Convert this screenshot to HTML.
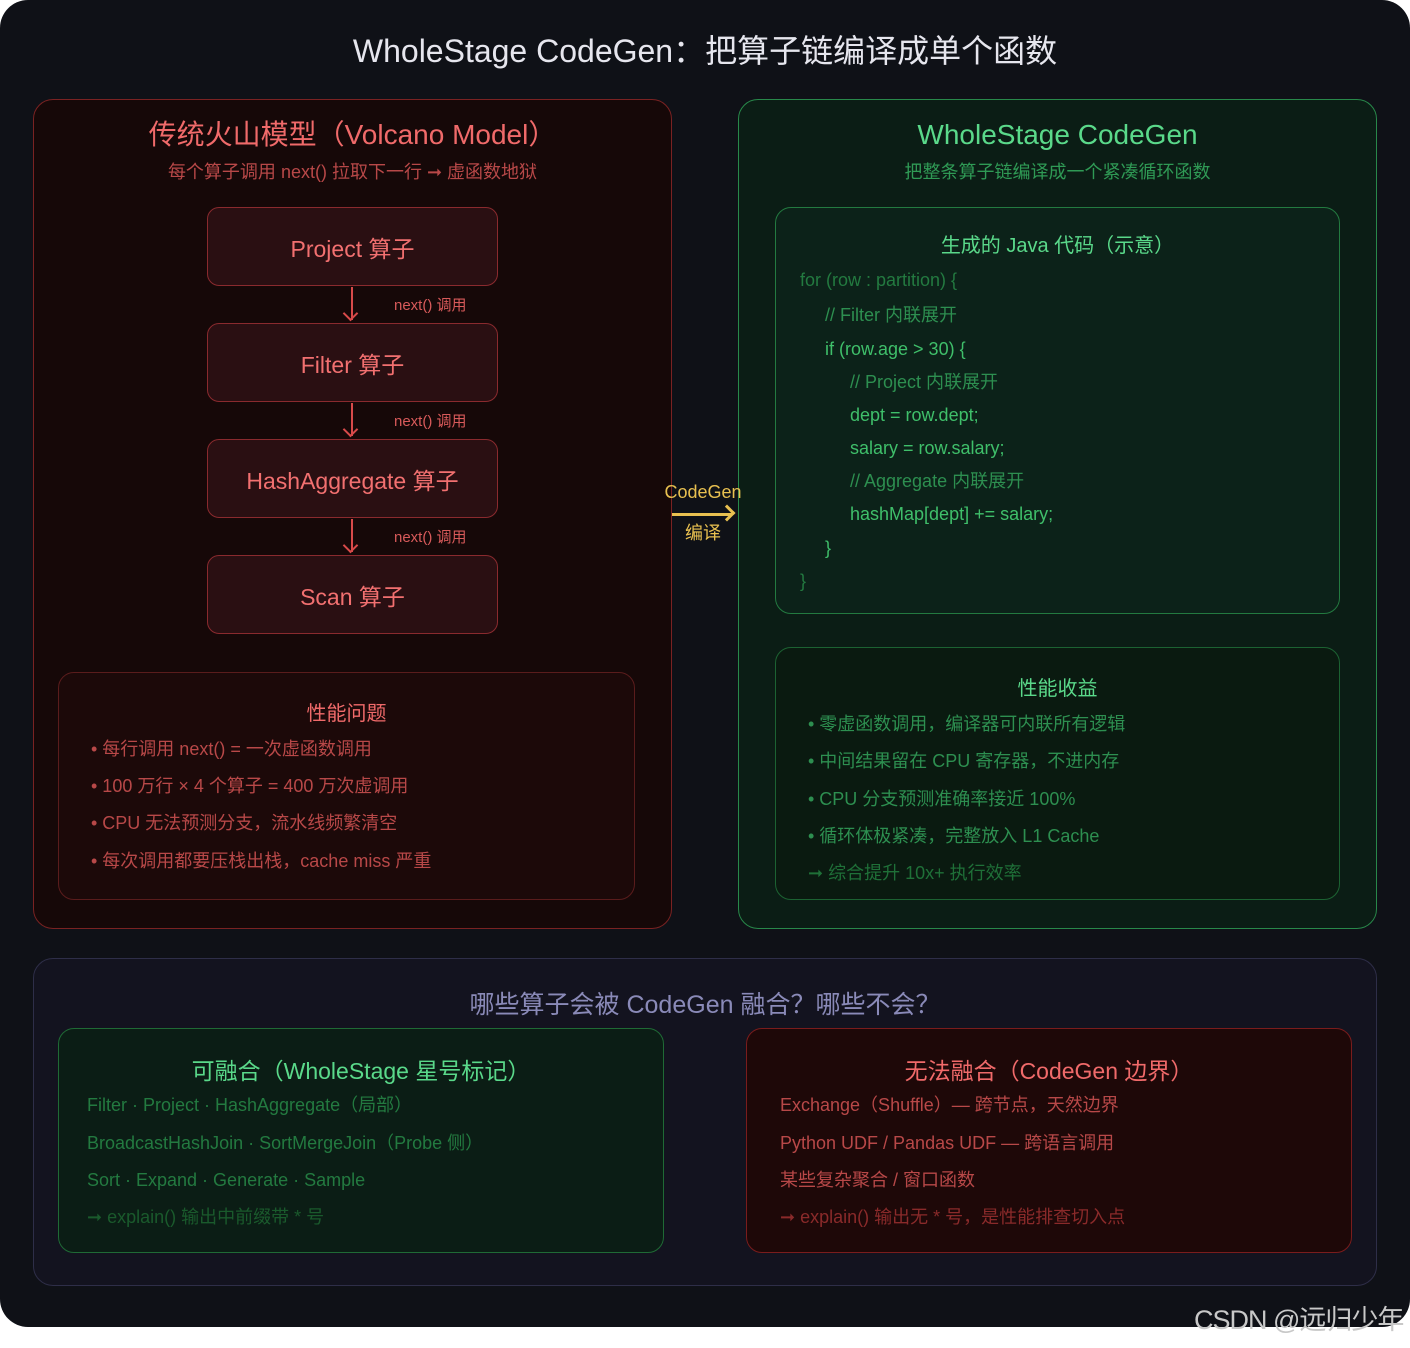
<!DOCTYPE html>
<html><head><meta charset="utf-8"><style>
*{margin:0;padding:0;box-sizing:border-box}
body{width:1410px;height:1348px;background:#fff;position:relative;overflow:hidden;font-family:"Liberation Sans","Noto Sans CJK SC",sans-serif}
.a{position:absolute}
.box{position:absolute;border:1.5px solid;border-radius:20px}
.t{position:absolute;white-space:nowrap;line-height:1}
.c{text-align:center}
.node{position:absolute;left:207px;width:291px;height:79px;background:#2a0f12;border:1.5px solid #8a2a2e;border-radius:12px;color:#f27070;font-size:23px;display:flex;align-items:center;justify-content:center}
.lbl{position:absolute;left:394px;color:#d85a5a;font-size:15px;white-space:nowrap}
.ar{position:absolute;left:351px;width:2px;background:#d84a4a}
.ar::after{content:"";position:absolute;left:-6px;bottom:0;width:9px;height:9px;border-right:2px solid #d84a4a;border-bottom:2px solid #d84a4a;transform:translate(0,-1px) rotate(45deg);transform-origin:center}
</style></head><body>
<div class="a" style="left:0;top:0;width:1410px;height:1327px;background:#0f1117;border-radius:28px"></div>
<div class="t c" style="left:0;width:1410px;top:35px;font-size:32px;color:#e6e6ee">WholeStage CodeGen：把算子链编译成单个函数</div>

<!-- left panel -->
<div class="box" style="left:33px;top:99px;width:639px;height:830px;background:#160808;border-color:#7a2222"></div>
<div class="t c" style="left:33px;width:639px;top:121px;font-size:28px;color:#f06a6a">传统火山模型（Volcano Model）</div>
<div class="t c" style="left:33px;width:639px;top:163px;font-size:18px;color:#b84848">每个算子调用 next() 拉取下一行 ➞ 虚函数地狱</div>
<div class="node" style="top:207px">Project 算子</div>
<div class="node" style="top:323px">Filter 算子</div>
<div class="node" style="top:439px">HashAggregate 算子</div>
<div class="node" style="top:555px">Scan 算子</div>
<div class="ar" style="top:287px;height:33px"></div>
<div class="ar" style="top:403px;height:33px"></div>
<div class="ar" style="top:519px;height:33px"></div>
<div class="lbl" style="top:294px">next() 调用</div>
<div class="lbl" style="top:410px">next() 调用</div>
<div class="lbl" style="top:526px">next() 调用</div>
<div class="box" style="left:58px;top:672px;width:577px;height:228px;background:#1c0909;border-color:#5a1c1c;border-radius:16px"></div>
<div class="t c" style="left:58px;width:577px;top:704px;font-size:20px;color:#f06a6a">性能问题</div>
<div class="t" style="left:91px;top:740px;font-size:18px;color:#b84848">• 每行调用 next() = 一次虚函数调用</div>
<div class="t" style="left:91px;top:777px;font-size:18px;color:#b84848">• 100 万行 × 4 个算子 = 400 万次虚调用</div>
<div class="t" style="left:91px;top:814px;font-size:18px;color:#b84848">• CPU 无法预测分支，流水线频繁清空</div>
<div class="t" style="left:91px;top:852px;font-size:18px;color:#b84848">• 每次调用都要压栈出栈，cache miss 严重</div>

<!-- right panel -->
<div class="box" style="left:738px;top:99px;width:639px;height:830px;background:#0b1d15;border-color:#28884a"></div>
<div class="t c" style="left:738px;width:639px;top:121px;font-size:28px;color:#5ad98a">WholeStage CodeGen</div>
<div class="t c" style="left:738px;width:639px;top:163px;font-size:18px;color:#2f9a55">把整条算子链编译成一个紧凑循环函数</div>
<div class="box" style="left:775px;top:207px;width:565px;height:407px;background:#0c2219;border-color:#237a40;border-radius:16px"></div>
<div class="t c" style="left:775px;width:565px;top:236px;font-size:20px;color:#5ad98a">生成的 Java 代码（示意）</div>
<div class="t" style="left:800px;top:271px;font-size:18px;color:#237a40">for (row : partition) {</div>
<div class="t" style="left:825px;top:306px;font-size:18px;color:#2d8f50">// Filter 内联展开</div>
<div class="t" style="left:825px;top:340px;font-size:18px;color:#3fbf6a">if (row.age &gt; 30) {</div>
<div class="t" style="left:850px;top:373px;font-size:18px;color:#2d8f50">// Project 内联展开</div>
<div class="t" style="left:850px;top:406px;font-size:18px;color:#3fbf6a">dept = row.dept;</div>
<div class="t" style="left:850px;top:439px;font-size:18px;color:#3fbf6a">salary = row.salary;</div>
<div class="t" style="left:850px;top:472px;font-size:18px;color:#2d8f50">// Aggregate 内联展开</div>
<div class="t" style="left:850px;top:505px;font-size:18px;color:#3fbf6a">hashMap[dept] += salary;</div>
<div class="t" style="left:825px;top:539px;font-size:18px;color:#3fbf6a">}</div>
<div class="t" style="left:800px;top:572px;font-size:18px;color:#237a40">}</div>
<div class="box" style="left:775px;top:647px;width:565px;height:253px;background:#0a1a10;border-color:#1c6232;border-radius:16px"></div>
<div class="t c" style="left:775px;width:565px;top:679px;font-size:20px;color:#5ad98a">性能收益</div>
<div class="t" style="left:808px;top:715px;font-size:18px;color:#2d8f50">• 零虚函数调用，编译器可内联所有逻辑</div>
<div class="t" style="left:808px;top:752px;font-size:18px;color:#2d8f50">• 中间结果留在 CPU 寄存器，不进内存</div>
<div class="t" style="left:808px;top:790px;font-size:18px;color:#2d8f50">• CPU 分支预测准确率接近 100%</div>
<div class="t" style="left:808px;top:827px;font-size:18px;color:#2d8f50">• 循环体极紧凑，完整放入 L1 Cache</div>
<div class="t" style="left:808px;top:864px;font-size:18px;color:#1f7038">➞ 综合提升 10x+ 执行效率</div>

<!-- arrow -->
<div class="t c" style="left:652px;width:102px;top:483px;font-size:18px;color:#e8c050">CodeGen</div>
<div class="a" style="left:672px;top:513px;width:60px;height:3px;background:#e8c050"></div>
<div class="a" style="left:721px;top:507px;width:12px;height:12px;border-right:3px solid #e8c050;border-top:3px solid #e8c050;transform:rotate(45deg)"></div>
<div class="t c" style="left:652px;width:102px;top:524px;font-size:18px;color:#e8c050">编译</div>

<!-- bottom -->
<div class="box" style="left:33px;top:958px;width:1344px;height:328px;background:#13131f;border-color:#2e2e48"></div>
<div class="t c" style="left:33px;width:1344px;top:993px;font-size:25px;color:#8a8ab8">哪些算子会被 CodeGen 融合？哪些不会？</div>
<div class="box" style="left:58px;top:1028px;width:606px;height:225px;background:#0b1d15;border-color:#1f6a35;border-radius:16px"></div>
<div class="t c" style="left:58px;width:606px;top:1060px;font-size:23px;color:#5ad98a">可融合（WholeStage 星号标记）</div>
<div class="t" style="left:87px;top:1096px;font-size:18px;color:#237a40">Filter · Project · HashAggregate（局部）</div>
<div class="t" style="left:87px;top:1134px;font-size:18px;color:#237a40">BroadcastHashJoin · SortMergeJoin（Probe 侧）</div>
<div class="t" style="left:87px;top:1171px;font-size:18px;color:#237a40">Sort · Expand · Generate · Sample</div>
<div class="t" style="left:87px;top:1208px;font-size:18px;color:#1a5a2c">➞ explain() 输出中前缀带 * 号</div>
<div class="box" style="left:746px;top:1028px;width:606px;height:225px;background:#1e0808;border-color:#7a1c1c;border-radius:16px"></div>
<div class="t c" style="left:746px;width:606px;top:1060px;font-size:23px;color:#f06a6a">无法融合（CodeGen 边界）</div>
<div class="t" style="left:780px;top:1096px;font-size:18px;color:#b84848">Exchange（Shuffle）— 跨节点，天然边界</div>
<div class="t" style="left:780px;top:1134px;font-size:18px;color:#b84848">Python UDF / Pandas UDF — 跨语言调用</div>
<div class="t" style="left:780px;top:1171px;font-size:18px;color:#b84848">某些复杂聚合 / 窗口函数</div>
<div class="t" style="left:780px;top:1208px;font-size:18px;color:#8a2a2a">➞ explain() 输出无 * 号，是性能排查切入点</div>

<div class="t" style="left:1194px;top:1307px;font-size:27px;color:#c8c8c8;letter-spacing:-1px">CSDN @远归少年</div>
</body></html>
